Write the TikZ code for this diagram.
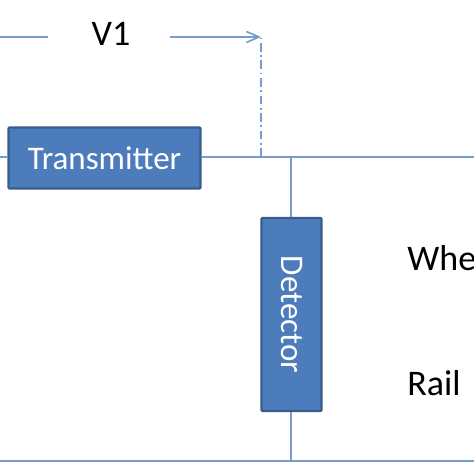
\documentclass[tikz,border=0pt]{standalone}
\usepackage{fontspec}
\setmainfont{Carlito}
\usetikzlibrary{positioning, arrows.meta, calc}
\definecolor{railblue}{RGB}{120, 155, 205}
\definecolor{boxfill}{RGB}{76, 124, 187}
\definecolor{boxedge}{RGB}{56, 93, 138}
\tikzset{
    wire/.style={railblue, line width=0.95pt},
    unit/.style={draw=boxedge, fill=boxfill, line width=1.2pt, rounded corners=0.5pt, inner sep=0pt, text=white, font=\fontsize{18.8}{20}\selectfont},
    label/.style={inner sep=0pt, text=black, font=\fontsize{20.5}{22}\selectfont},
}
\begin{document}
\begin{tikzpicture}[x=0.02cm, y=-0.02cm, >=stealth]
\useasboundingbox (0,0) rectangle (474,474);
\node[unit, minimum width=3.84cm, minimum height=1.22cm] (transmitter) at (104.5,158) {Transmitter};
\node[unit, minimum width=3.86cm, minimum height=1.2cm, rotate=-90] (detector) at (291.5,314.5) {Detector};
\node[label, anchor=base] (v1) at (111,45) {V1};
\node[label, anchor=base west] (wheel) at (407,270) {Whe};
\node[label, anchor=base west] (rail) at (407,395) {Rail};
\coordinate (topleft) at (0,37);
\coordinate (topstop) at (48,37);
\coordinate (arrowstart) at (170,37);
\coordinate (arrowend) at (261,37);
\coordinate (railstart) at (0,157);
\coordinate (railend) at (474,157);
\coordinate (tap) at (261,157);
\coordinate (join) at (291,157);
\coordinate (lowstart) at (0,461);
\coordinate (lowend) at (474,461);
\coordinate (lowjoin) at (291,461);
% rails
\draw[wire] (railstart) -- (transmitter.west |- railstart);
\draw[wire] (transmitter.east |- railend) -- (railend);
\draw[wire] (lowstart) -- (lowend);
\draw[wire] (join) -- (join |- detector.west);
\draw[wire] (join |- detector.east) -- (lowjoin);
% distance marker
\draw[wire] (topleft) -- (topstop);
\draw[wire, -{Straight Barb[length=2.5mm, width=2.2mm]}] (arrowstart) -- (arrowend);
\draw[wire, dash pattern=on 5pt off 2pt on 1pt off 2pt] (tap) -- (arrowend);
\end{tikzpicture}
\end{document}
